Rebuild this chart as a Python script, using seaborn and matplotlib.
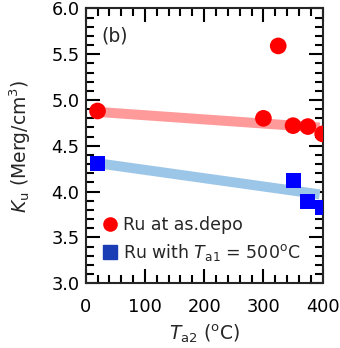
import numpy as np
import pandas as pd
import matplotlib
matplotlib.use("Agg")
import matplotlib.pyplot as plt
from matplotlib.lines import Line2D
import seaborn as sns

# data
asdepo_T = [20, 325, 300, 350, 375, 400]
asdepo_K = [4.88, 5.59, 4.80, 4.72, 4.71, 4.63]
ta500_T = [20, 350, 375, 400]
ta500_K = [4.31, 4.12, 3.89, 3.83]

# guide bands (end points)
band_T = [20, 395]
band_red = [4.87, 4.70]
band_blue = [4.31, 3.97]

sns.set_style("ticks")
plt.rcParams["font.family"] = ["DejaVu Sans"]
plt.rcParams["mathtext.fontset"] = "dejavusans"

fig = plt.figure(figsize=(3.4, 3.48), dpi=100)
ax = fig.add_axes([0.252, 0.186, 0.697, 0.790])

sns.lineplot(x=band_T, y=band_red, ax=ax, color="#ff9a9a", linewidth=7.2,
             solid_capstyle="butt", zorder=1)
sns.lineplot(x=band_T, y=band_blue, ax=ax, color="#9cc6e8", linewidth=7.2,
             solid_capstyle="butt", zorder=1)

sns.scatterplot(x=asdepo_T, y=asdepo_K, ax=ax, marker="o", s=144,
                color="#ff0000", edgecolor="none", zorder=3)
sns.scatterplot(x=ta500_T, y=ta500_K, ax=ax, marker="s", s=117,
                color="#0000ff", edgecolor="none", zorder=3)

ax.set_xlim(0, 400)
ax.set_ylim(3.0, 6.0)
ax.set_xticks([0, 100, 200, 300, 400])
ax.set_yticks([3.0, 3.5, 4.0, 4.5, 5.0, 5.5, 6.0])
ax.set_yticklabels(["3.0", "3.5", "4.0", "4.5", "5.0", "5.5", "6.0"])
ax.xaxis.set_minor_locator(matplotlib.ticker.MultipleLocator(20))
ax.yaxis.set_minor_locator(matplotlib.ticker.MultipleLocator(0.1))

for s in ax.spines.values():
    s.set_linewidth(1.5)
    s.set_visible(True)
ax.tick_params(which="both", direction="in", top=True, right=True, width=1.5,
               colors="black")
ax.tick_params(which="major", length=10)
ax.tick_params(which="minor", length=5.5)
ax.tick_params(axis="x", which="major", labelsize=12.8, pad=10.5)
ax.tick_params(axis="y", which="major", labelsize=12.8, pad=4.5)

ax.set_xlabel(r"$T_{\rm a2}$ ($^{\rm o}$C)", fontsize=13.5, labelpad=5)
ax.set_ylabel(r"$K_{\rm u}$ (Merg/cm$^3$)", fontsize=13.5, labelpad=13)

ax.text(0.065, 0.9, "(b)", transform=ax.transAxes, fontsize=13.5,
        ha="left", va="center")

handles = [
    Line2D([], [], marker="o", linestyle="none", color="#ff0000",
           markersize=9.5, label="Ru at as.depo"),
    Line2D([], [], marker="s", linestyle="none", color="#1a3cb4",
           markersize=9.5, label=r"Ru with $T_{\rm a1}$ = 500$^{\rm o}$C"),
]
ax.legend(handles=handles, loc="lower left", bbox_to_anchor=(0.02, 0.03),
          frameon=False, fontsize=12.5, handlelength=0.8, handletextpad=0.35,
          labelspacing=0.45, borderaxespad=0.3)

fig.savefig("out.png", dpi=100)
